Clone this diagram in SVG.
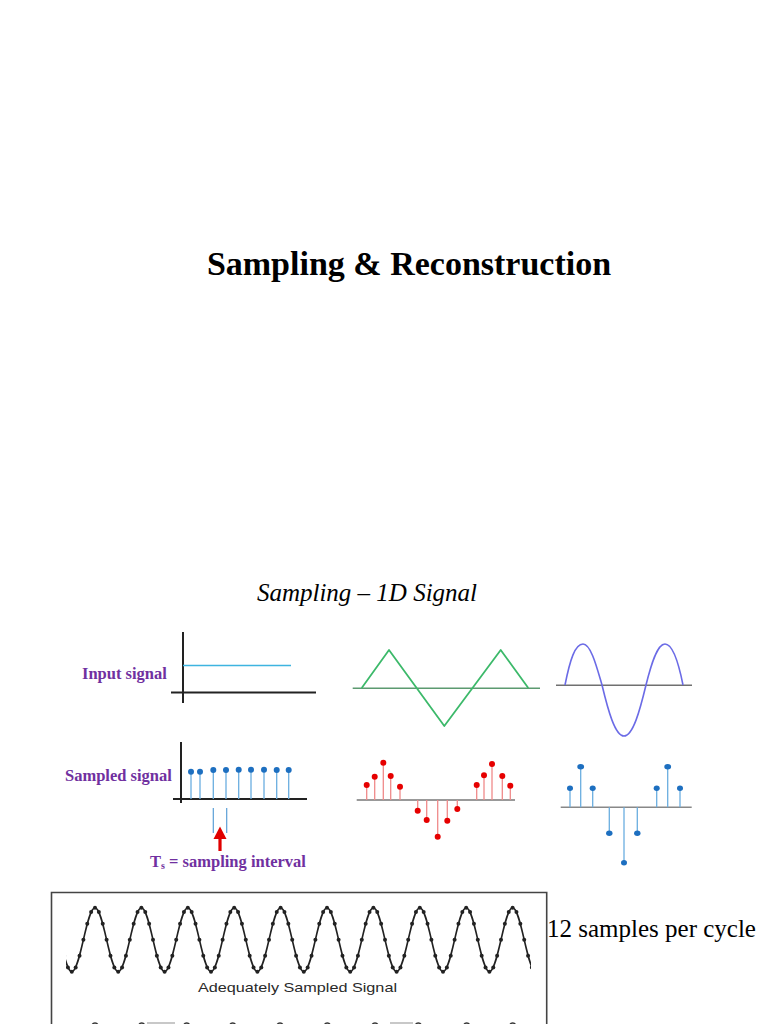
<svg xmlns="http://www.w3.org/2000/svg" width="768" height="1024" viewBox="0 0 768 1024">
<style>
.title{font-family:"Liberation Serif","Times New Roman",serif;font-weight:bold;font-size:34px;fill:#000}
.sub{font-family:"Liberation Serif","Times New Roman",serif;font-style:italic;font-size:25px;fill:#000}
.lbl{font-family:"Liberation Serif","Times New Roman",serif;font-weight:bold;font-size:16.5px;fill:#7030A0}
.note{font-family:"Liberation Serif","Times New Roman",serif;font-size:25px;fill:#000}
.cap{font-family:"Liberation Sans",Arial,sans-serif;font-size:13px;fill:#2a2a2a}
.ax{stroke:#222;stroke-width:2;fill:none}
.bstem{stroke:#6aaee0;stroke-width:1.3}
.bdot{fill:#1d6fc0}
.rstem{stroke:#f08a8a;stroke-width:1.3}
.rdot{fill:#e60000}
</style>
<defs>
<clipPath id="wclip"><rect x="66" y="895" width="465" height="90"/></clipPath>
<g id="cyc">
<circle cx="0" cy="907.7" r="2"/><circle cx="3.867" cy="911.99" r="2"/><circle cx="7.733" cy="923.7" r="2"/><circle cx="11.6" cy="939.7" r="2"/>
<circle cx="15.467" cy="955.7" r="2"/><circle cx="19.333" cy="967.41" r="2"/><circle cx="23.2" cy="971.7" r="2"/><circle cx="27.067" cy="967.41" r="2"/>
<circle cx="30.933" cy="955.7" r="2"/><circle cx="34.8" cy="939.7" r="2"/><circle cx="38.667" cy="923.7" r="2"/><circle cx="42.533" cy="911.99" r="2"/>
</g>
</defs>
<rect width="768" height="1024" fill="#fff"/>

<g id="title"><text class="title" x="409" y="275" text-anchor="middle">Sampling &amp; Reconstruction</text></g>
<g id="subtitle"><text class="sub" x="367" y="601" text-anchor="middle">Sampling – 1D Signal</text></g>

<g id="input-signal">
<text class="lbl" x="82" y="679">Input signal</text>
<line class="ax" x1="183" y1="632" x2="183" y2="703"/>
<line class="ax" x1="171" y1="692.5" x2="316" y2="692.5"/>
<line x1="183" y1="665.5" x2="291" y2="665.5" stroke="#3db4e0" stroke-width="1.6"/>
</g>

<g id="sampled-signal">
<text class="lbl" x="65" y="781">Sampled signal</text>
<line class="ax" x1="181" y1="742" x2="181" y2="803"/>
<line class="ax" x1="173" y1="799" x2="307" y2="799"/>
<g class="bstem">
<line x1="191" y1="772" x2="191" y2="799"/><line x1="200" y1="772" x2="200" y2="799"/>
<line x1="213.3" y1="770" x2="213.3" y2="799"/><line x1="226" y1="770" x2="226" y2="799"/>
<line x1="238.7" y1="770" x2="238.7" y2="799"/><line x1="251" y1="770" x2="251" y2="799"/>
<line x1="264" y1="770" x2="264" y2="799"/><line x1="276.7" y1="770" x2="276.7" y2="799"/>
<line x1="288.7" y1="770" x2="288.7" y2="799"/>
</g>
<g class="bdot">
<circle cx="191" cy="771.7" r="3"/><circle cx="200" cy="771.7" r="3"/><circle cx="213.3" cy="770" r="3"/>
<circle cx="226" cy="770" r="3"/><circle cx="238.7" cy="769.7" r="3"/><circle cx="251" cy="769.7" r="3"/>
<circle cx="264" cy="769.7" r="3"/><circle cx="276.7" cy="770" r="3"/><circle cx="288.7" cy="770" r="3"/>
</g>
<line x1="213.3" y1="808" x2="213.3" y2="833" stroke="#5a9fd6" stroke-width="1.2"/>
<line x1="226.7" y1="808" x2="226.7" y2="833" stroke="#5a9fd6" stroke-width="1.2"/>
<line x1="220" y1="851" x2="220" y2="836" stroke="#e00000" stroke-width="3.2"/>
<polygon points="213.5,839 226.5,839 220,826.5" fill="#e00000"/>
<text class="lbl" x="150" y="867">T<tspan font-size="10" dy="2">s</tspan><tspan dy="-2"> = sampling interval</tspan></text>
</g>

<g id="triangle-wave">
<line x1="352.7" y1="688.3" x2="540" y2="688.3" stroke="#5c9a70" stroke-width="1.4"/>
<polyline points="361.7,688 389,650 444.3,726 500.7,650 528.3,688" fill="none" stroke="#3cb96a" stroke-width="1.8" stroke-linejoin="round"/>
</g>

<g id="sine-wave">
<line x1="556" y1="685.3" x2="692" y2="685.3" stroke="#707070" stroke-width="1.5"/>
<path d="M565,685 C570,660 575,644 583,644 C591,644 597,668 602,685 C608,710 615,736 624,736 C633,736 640,710 646,685 C651,665 657,644 665,644 C673,644 679,665 683,685" fill="none" stroke="#6b6be6" stroke-width="1.6"/>
</g>

<g id="sampled-triangle">
<line x1="356.7" y1="800" x2="515" y2="800" stroke="#999" stroke-width="1.8"/>
<g class="rstem">
<line x1="366.7" y1="785" x2="366.7" y2="800"/><line x1="374.7" y1="776.7" x2="374.7" y2="800"/>
<line x1="383.3" y1="762.7" x2="383.3" y2="800"/><line x1="390.7" y1="776" x2="390.7" y2="800"/>
<line x1="400" y1="786.7" x2="400" y2="800"/><line x1="417.7" y1="800" x2="417.7" y2="810.7"/>
<line x1="426.7" y1="800" x2="426.7" y2="820"/><line x1="437.7" y1="800" x2="437.7" y2="836.7"/>
<line x1="447.3" y1="800" x2="447.3" y2="820.7"/><line x1="457.3" y1="800" x2="457.3" y2="809"/>
<line x1="476.7" y1="785" x2="476.7" y2="800"/><line x1="484" y1="775.3" x2="484" y2="800"/>
<line x1="492" y1="764" x2="492" y2="800"/><line x1="502.3" y1="776" x2="502.3" y2="800"/>
<line x1="510.3" y1="785.7" x2="510.3" y2="800"/>
</g>
<g class="rdot">
<circle cx="366.7" cy="785" r="3"/><circle cx="374.7" cy="776.7" r="3"/><circle cx="383.3" cy="762.7" r="3"/>
<circle cx="390.7" cy="776" r="3"/><circle cx="400" cy="786.7" r="3"/><circle cx="417.7" cy="810.7" r="3"/>
<circle cx="426.7" cy="820" r="3"/><circle cx="437.7" cy="836.7" r="3"/><circle cx="447.3" cy="820.7" r="3"/>
<circle cx="457.3" cy="809" r="3"/><circle cx="476.7" cy="785" r="3"/><circle cx="484" cy="775.3" r="3"/>
<circle cx="492" cy="764" r="3"/><circle cx="502.3" cy="776" r="3"/><circle cx="510.3" cy="785.7" r="3"/>
</g>
</g>

<g id="sampled-sine">
<line x1="560.7" y1="807.3" x2="691.7" y2="807.3" stroke="#888" stroke-width="1.6"/>
<g class="bstem">
<line x1="570" y1="788.3" x2="570" y2="807.3"/><line x1="580.7" y1="766.7" x2="580.7" y2="807.3"/>
<line x1="592.7" y1="788.3" x2="592.7" y2="807.3"/><line x1="609.3" y1="807.3" x2="609.3" y2="833.3"/>
<line x1="624" y1="807.3" x2="624" y2="862.7"/><line x1="637.3" y1="807.3" x2="637.3" y2="833.3"/>
<line x1="656.7" y1="788.3" x2="656.7" y2="807.3"/><line x1="667.7" y1="766.7" x2="667.7" y2="807.3"/>
<line x1="680" y1="788.3" x2="680" y2="807.3"/>
</g>
<g class="bdot">
<ellipse cx="570" cy="788.3" rx="3" ry="2.7"/><ellipse cx="580.7" cy="766.7" rx="3.4" ry="2.7"/>
<ellipse cx="592.7" cy="788.3" rx="3" ry="2.7"/><ellipse cx="609.3" cy="833.3" rx="3.2" ry="2.7"/>
<ellipse cx="624" cy="862.7" rx="3" ry="2.7"/><ellipse cx="637.3" cy="833.3" rx="3.2" ry="2.7"/>
<ellipse cx="656.7" cy="788.3" rx="3" ry="2.7"/><ellipse cx="667.7" cy="766.7" rx="3.4" ry="2.7"/>
<ellipse cx="680" cy="788.3" rx="3" ry="2.7"/>
</g>
</g>

<g id="adequate-box">
<path d="M51.5,1030 V892.5 H546.7 V1030" fill="none" stroke="#444" stroke-width="1.6"/>
<g clip-path="url(#wclip)">
<path d="M48.6,907.7 c4.198,0 7.817,15.61 11.6,32 c3.783,16.39 7.402,32 11.6,32 c4.198,0 7.817,-15.61 11.6,-32 c3.783,-16.39 7.402,-32 11.6,-32
c4.198,0 7.817,15.61 11.6,32 c3.783,16.39 7.402,32 11.6,32 c4.198,0 7.817,-15.61 11.6,-32 c3.783,-16.39 7.402,-32 11.6,-32
c4.198,0 7.817,15.61 11.6,32 c3.783,16.39 7.402,32 11.6,32 c4.198,0 7.817,-15.61 11.6,-32 c3.783,-16.39 7.402,-32 11.6,-32
c4.198,0 7.817,15.61 11.6,32 c3.783,16.39 7.402,32 11.6,32 c4.198,0 7.817,-15.61 11.6,-32 c3.783,-16.39 7.402,-32 11.6,-32
c4.198,0 7.817,15.61 11.6,32 c3.783,16.39 7.402,32 11.6,32 c4.198,0 7.817,-15.61 11.6,-32 c3.783,-16.39 7.402,-32 11.6,-32
c4.198,0 7.817,15.61 11.6,32 c3.783,16.39 7.402,32 11.6,32 c4.198,0 7.817,-15.61 11.6,-32 c3.783,-16.39 7.402,-32 11.6,-32
c4.198,0 7.817,15.61 11.6,32 c3.783,16.39 7.402,32 11.6,32 c4.198,0 7.817,-15.61 11.6,-32 c3.783,-16.39 7.402,-32 11.6,-32
c4.198,0 7.817,15.61 11.6,32 c3.783,16.39 7.402,32 11.6,32 c4.198,0 7.817,-15.61 11.6,-32 c3.783,-16.39 7.402,-32 11.6,-32
c4.198,0 7.817,15.61 11.6,32 c3.783,16.39 7.402,32 11.6,32 c4.198,0 7.817,-15.61 11.6,-32 c3.783,-16.39 7.402,-32 11.6,-32
c4.198,0 7.817,15.61 11.6,32 c3.783,16.39 7.402,32 11.6,32 c4.198,0 7.817,-15.61 11.6,-32 c3.783,-16.39 7.402,-32 11.6,-32
c4.198,0 7.817,15.61 11.6,32 c3.783,16.39 7.402,32 11.6,32 c4.198,0 7.817,-15.61 11.6,-32 c3.783,-16.39 7.402,-32 11.6,-32" fill="none" stroke="#222" stroke-width="1.6"/>
<g fill="#222">
<use href="#cyc" x="48.6"/><use href="#cyc" x="95"/><use href="#cyc" x="141.4"/><use href="#cyc" x="187.8"/>
<use href="#cyc" x="234.2"/><use href="#cyc" x="280.6"/><use href="#cyc" x="327"/><use href="#cyc" x="373.4"/>
<use href="#cyc" x="419.8"/><use href="#cyc" x="466.2"/><use href="#cyc" x="512.6"/>
</g>
</g>
<text class="cap" x="198" y="992" textLength="199" lengthAdjust="spacingAndGlyphs">Adequately Sampled Signal</text>
<g fill="none" stroke="#333" stroke-width="1.3">
<circle cx="95" cy="1026" r="3"/><circle cx="141.7" cy="1026" r="3"/><circle cx="186.7" cy="1026" r="3"/>
<circle cx="232.7" cy="1026" r="3"/><circle cx="280" cy="1026" r="3"/><circle cx="327.3" cy="1026" r="3"/>
<circle cx="375" cy="1026" r="3"/><circle cx="418.3" cy="1026" r="3"/><circle cx="466.7" cy="1026" r="3"/>
<circle cx="512.7" cy="1026" r="3"/>
<line x1="147" y1="1023" x2="175" y2="1023" stroke="#aaa"/>
<line x1="390" y1="1023" x2="413" y2="1023" stroke="#aaa"/>
</g>
</g>

<g id="note"><text class="note" x="547" y="937">12 samples per cycle</text></g>
</svg>
